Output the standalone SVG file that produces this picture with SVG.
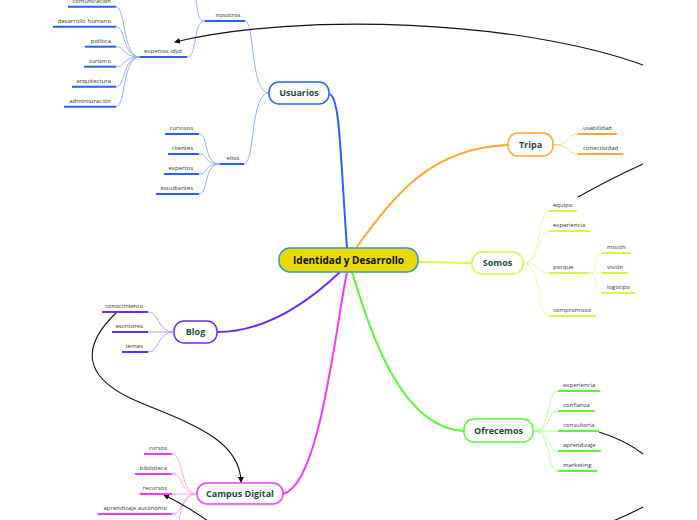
<svg xmlns="http://www.w3.org/2000/svg" width="697" height="520" viewBox="0 0 697 520">
<style>
.box{stroke-width:1.5;fill:#fff}
.nt{font-family:"Open Sans","Noto Sans",sans-serif;font-weight:bold;font-size:9px;fill:#1e4a3c;text-anchor:middle}
.lt{font-family:"Open Sans","Noto Sans",sans-serif;font-size:6px;fill:#333}
.e{text-anchor:end}.m{text-anchor:middle}
.ul{stroke-width:2;fill:none}
.c{fill:none;stroke-width:1}
.main{fill:none;stroke-width:2}
.blk{fill:none;stroke:#111;stroke-width:1.1}
.bl{stroke:#2a5ff5}.blL{stroke:#8fb0ff}
.or{stroke:#ffa726}.orL{stroke:#ffd08a}
.yg{stroke:#d9f545}.ygL{stroke:#ecf8a8}
.gr{stroke:#5cf53a}.grL{stroke:#b4fba0}
.pu{stroke:#6a2cf5}.puL{stroke:#b39cfb}
.mg{stroke:#f03cf0}.mgL{stroke:#f7a6f7}
</style>
<defs>
<marker id="arr" viewBox="0 0 6 6" refX="5" refY="3" markerWidth="6" markerHeight="6" markerUnits="userSpaceOnUse" orient="auto"><path d="M0,0 L6,3 L0,6 z" fill="#111"/></marker>
</defs>
<rect width="697" height="520" fill="#fff"/>
<g id="connectors">
<path class="main bl" d="M330,94 C340,100 340,150 347,248"/>
<path class="main or" d="M356,248 C395,195 430,148 508,145"/>
<path class="main yg" d="M418,262 L472,263"/>
<path class="main gr" d="M352,272 C370,330 400,428 464,431"/>
<path class="main pu" d="M340,272 C300,310 260,332 217,332"/>
<path class="main mg" d="M347,272 C335,330 320,485 283,494"/>
<!-- usuarios -->
<path class="c blL" d="M269,93 C250,93 255,21 245,21"/>
<path class="c blL" d="M269,93 C250,93 255,164 244,164"/>
<path class="c blL" d="M205,21 C195,21 199,5 194,-8"/>
<path class="c blL" d="M205,21 C192,21 198,57 187,57"/>
<path class="c blL" d="M140,57 C122,57 126,6.7 116,6.7"/>
<path class="c blL" d="M140,57 C122,57 126,26.7 116,26.7"/>
<path class="c blL" d="M140,57 C122,57 126,46.7 116,46.7"/>
<path class="c blL" d="M140,57 C122,57 126,66.7 116,66.7"/>
<path class="c blL" d="M140,57 C122,57 126,86.7 116,86.7"/>
<path class="c blL" d="M140,57 C122,57 126,106.7 116,106.7"/>
<path class="c blL" d="M220,164 C203,164 209,134 199,134"/>
<path class="c blL" d="M220,164 C203,164 209,154 199,154"/>
<path class="c blL" d="M220,164 C203,164 209,174 199,174"/>
<path class="c blL" d="M220,164 C203,164 209,194 199,194"/>
<!-- tripa -->
<path class="c orL" d="M553,145 C572,145 566,134 578,134"/>
<path class="c orL" d="M553,145 C572,145 566,154 578,154"/>
<!-- somos -->
<path class="c ygL" d="M523,263 C542,263 537,211 549,211"/>
<path class="c ygL" d="M523,263 C542,263 537,231 549,231"/>
<path class="c ygL" d="M523,263 C542,263 537,273 549,273"/>
<path class="c ygL" d="M523,263 C542,263 537,316 549,316"/>
<path class="c ygL" d="M588,273 C600,273 592,253 602,253"/>
<path class="c ygL" d="M588,273 L602,273"/>
<path class="c ygL" d="M588,273 C600,273 592,293 602,293"/>
<!-- ofrecemos -->
<path class="c grL" d="M533,431 C552,431 546,391 558,391"/>
<path class="c grL" d="M533,431 C552,431 546,411 558,411"/>
<path class="c grL" d="M533,431 L558,431"/>
<path class="c grL" d="M533,431 C552,431 546,451 558,451"/>
<path class="c grL" d="M533,431 C552,431 546,471 558,471"/>
<!-- blog -->
<path class="c puL" d="M174,332 C157,332 160,312 148,312"/>
<path class="c puL" d="M174,332 L148,332"/>
<path class="c puL" d="M174,332 C157,332 160,352 148,352"/>
<!-- campus -->
<path class="c mgL" d="M197,494 C180,494 184,454 172,454"/>
<path class="c mgL" d="M197,494 C180,494 184,474 172,474"/>
<path class="c mgL" d="M197,494 L172,494"/>
<path class="c mgL" d="M197,494 C180,494 184,514 172,514"/>
<path class="c mgL" d="M197,494 C180,494 180,520 176,534"/>
<!-- black relations -->
<path class="blk" d="M643,65 C520,20 300,12 175,42" marker-end="url(#arr)"/>
<path class="blk" d="M578,197 Q612,178 643,164"/>
<path class="blk" d="M599,432 Q625,440 643,454"/>
<path class="blk" d="M613,521 Q630,514 643,507"/>
<path class="blk" d="M208,521 Q185,505 164,495" marker-end="url(#arr)"/>
<path class="blk" d="M117,312 C82,345 82,375 130,398 C178,420 240,435 241,482" marker-end="url(#arr)"/>
</g>
<g id="center">
<rect x="279" y="248" width="139" height="24" rx="11" fill="#e6da00" stroke="#3d8fce" stroke-width="1.5"/>
<text x="348.5" y="264" font-family="Open Sans, Noto Sans, sans-serif" font-weight="bold" font-size="10" fill="#111" text-anchor="middle">Identidad y Desarrollo</text>
</g>
<g id="usuarios">
<rect class="box bl" x="269" y="82" width="60" height="22" rx="10"/>
<text class="nt" x="299" y="96">Usuarios</text>
</g>
<g id="nosotros"><line class="ul bl" x1="205" y1="21" x2="245" y2="21"/><text class="lt m" x="228" y="16.5">nosotros</text></g>
<g id="expertos-idyd"><line class="ul bl" x1="140" y1="57" x2="187" y2="57"/><text class="lt m" x="163" y="52.5">expertos idyd</text></g>
<g id="comunicacion"><line class="ul bl" x1="68" y1="6.7" x2="116" y2="6.7"/><text class="lt e" x="111" y="2.5">comunicación</text></g>
<g id="desarrollo-humano"><line class="ul bl" x1="53" y1="26.7" x2="116" y2="26.7"/><text class="lt e" x="111" y="22.5">desarrollo humano</text></g>
<g id="politica"><line class="ul bl" x1="85" y1="46.7" x2="116" y2="46.7"/><text class="lt e" x="111" y="42.5">política</text></g>
<g id="turismo"><line class="ul bl" x1="84" y1="66.7" x2="116" y2="66.7"/><text class="lt e" x="111" y="62.5">turismo</text></g>
<g id="arquitectura"><line class="ul bl" x1="72" y1="86.7" x2="116" y2="86.7"/><text class="lt e" x="111" y="82.5">arquitectura</text></g>
<g id="administracion"><line class="ul bl" x1="64" y1="106.7" x2="116" y2="106.7"/><text class="lt e" x="111" y="102.5">administración</text></g>
<g id="ellos"><line class="ul bl" x1="220" y1="164" x2="244" y2="164"/><text class="lt m" x="233" y="160">ellos</text></g>
<g id="curiosos"><line class="ul bl" x1="165" y1="134" x2="199" y2="134"/><text class="lt e" x="193" y="130">curiosos</text></g>
<g id="clientes"><line class="ul bl" x1="168" y1="154" x2="199" y2="154"/><text class="lt e" x="193" y="150">clientes</text></g>
<g id="expertos"><line class="ul bl" x1="164" y1="174" x2="199" y2="174"/><text class="lt e" x="193" y="170">expertos</text></g>
<g id="estudiantes"><line class="ul bl" x1="156" y1="194" x2="199" y2="194"/><text class="lt e" x="193" y="190">estudiantes</text></g>
<g id="tripa">
<rect class="box or" x="508" y="133" width="45" height="23" rx="10"/>
<text class="nt" x="530.5" y="148">Tripa</text>
</g>
<g id="usabilidad"><line class="ul or" x1="578" y1="134" x2="617" y2="134"/><text class="lt" x="583" y="130">usabilidad</text></g>
<g id="conectividad"><line class="ul or" x1="578" y1="154" x2="623" y2="154"/><text class="lt" x="583" y="150">conectividad</text></g>
<g id="somos">
<rect class="box yg" x="472" y="252" width="51" height="22" rx="10"/>
<text class="nt" x="497.5" y="266">Somos</text>
</g>
<g id="equipo"><line class="ul yg" x1="549" y1="211" x2="577" y2="211"/><text class="lt" x="553" y="206.5">equipo</text></g>
<g id="experiencia-s"><line class="ul yg" x1="549" y1="231" x2="590" y2="231"/><text class="lt" x="553" y="226.5">experiencia</text></g>
<g id="porque"><line class="ul yg" x1="549" y1="273" x2="588" y2="273"/><text class="lt" x="553" y="268.5">porque</text></g>
<g id="compromisos"><line class="ul yg" x1="549" y1="316" x2="596" y2="316"/><text class="lt" x="553" y="311.5">compromisos</text></g>
<g id="mision"><line class="ul yg" x1="602" y1="253" x2="631" y2="253"/><text class="lt" x="607" y="248.5">misión</text></g>
<g id="vision"><line class="ul yg" x1="602" y1="273" x2="628" y2="273"/><text class="lt" x="607" y="268.5">visión</text></g>
<g id="logotipo"><line class="ul yg" x1="602" y1="293" x2="635" y2="293"/><text class="lt" x="607" y="288.5">logotipo</text></g>
<g id="ofrecemos">
<rect class="box gr" x="464" y="419" width="69" height="23" rx="10"/>
<text class="nt" x="498.5" y="434">Ofrecemos</text>
</g>
<g id="experiencia-o"><line class="ul gr" x1="558" y1="391" x2="600" y2="391"/><text class="lt" x="563" y="386.5">experiencia</text></g>
<g id="confianza"><line class="ul gr" x1="558" y1="411" x2="595" y2="411"/><text class="lt" x="563" y="406.5">confianza</text></g>
<g id="consultoria"><line class="ul gr" x1="558" y1="431" x2="599" y2="431"/><text class="lt" x="563" y="426.5">consultoria</text></g>
<g id="aprendizaje"><line class="ul gr" x1="558" y1="451" x2="601" y2="451"/><text class="lt" x="563" y="446.5">aprendizaje</text></g>
<g id="marketing"><line class="ul gr" x1="558" y1="471" x2="597" y2="471"/><text class="lt" x="563" y="466.5">marketing</text></g>
<g id="blog">
<rect class="box pu" x="174" y="321" width="43" height="22" rx="10"/>
<text class="nt" x="195.5" y="335">Blog</text>
</g>
<g id="conocimiento"><line class="ul pu" x1="102" y1="312" x2="148" y2="312"/><text class="lt e" x="143" y="307.5">conocimiento</text></g>
<g id="escritores"><line class="ul pu" x1="112" y1="332" x2="148" y2="332"/><text class="lt e" x="143" y="327.5">escritores</text></g>
<g id="temas"><line class="ul pu" x1="122" y1="352" x2="148" y2="352"/><text class="lt e" x="143" y="347.5">temas</text></g>
<g id="campus-digital">
<rect class="box mg" x="197" y="483" width="86" height="21" rx="10"/>
<text class="nt" x="240" y="497">Campus Digital</text>
</g>
<g id="cursos"><line class="ul mg" x1="144" y1="454" x2="172" y2="454"/><text class="lt e" x="167" y="449.5">cursos</text></g>
<g id="biblioteca"><line class="ul mg" x1="135" y1="474" x2="172" y2="474"/><text class="lt e" x="167" y="469.5">biblioteca</text></g>
<g id="recursos"><line class="ul mg" x1="140" y1="494" x2="172" y2="494"/><text class="lt e" x="167" y="489.5">recursos</text></g>
<g id="aprendizaje-autonomo"><line class="ul mg" x1="98" y1="514" x2="172" y2="514"/><text class="lt e" x="167" y="509.5">aprendizaje autónomo</text></g>
</svg>
